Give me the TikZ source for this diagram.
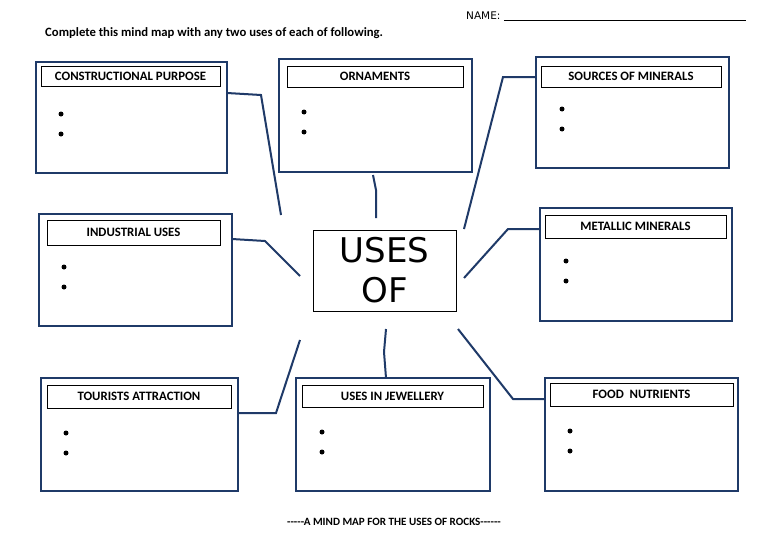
\documentclass[tikz,border=0pt]{standalone}
\usepackage{fontspec}
\setmainfont{Carlito}
\newfontfamily\dejavu{DejaVu Sans}
\definecolor{navy}{HTML}{1F3A68}
\begin{document}
\begin{tikzpicture}[x=1pt,y=-1pt,
  outer/.style={draw=navy,line width=2.4pt,fill=white},
  conn/.style={draw=navy,line width=2pt},
  bul/.style={fill=black,circle,inner sep=0pt,minimum size=5pt}]
\useasboundingbox (0,0) rectangle (768,543);
\fill[white] (0,0) rectangle (768,543);
\node[anchor=west,font=\dejavu\fontsize{10.5}{12}\selectfont,inner sep=0pt] (name) at (466,16) {NAME: \rule[-1.5pt]{242pt}{0.5pt}};
\node[anchor=west,font=\bfseries\fontsize{12.7}{14}\selectfont,inner sep=0pt] (title) at (45,33) {Complete this mind map with any two uses of each of following.};
\node[font=\bfseries\fontsize{11.1}{12}\selectfont] (foot) at (394,522) {{-}{-}{-}{-}{-}A MIND MAP FOR THE USES OF ROCKS{-}{-}{-}{-}{-}{-}};
\foreach \n/\a/\b/\c/\d/\la/\lb/\lc/\ld/\bx/\by/\t in {
 b1/36/62/227/173/41/66/220/86/61/114/CONSTRUCTIONAL PURPOSE,
 b2/279/59/472/172/287/66/463/87/304/112/ORNAMENTS,
 b3/536/57/729/168/541/66/721/87/562/109/SOURCES OF MINERALS,
 b4/39/214/232/326/47/220/220/245/64/267/INDUSTRIAL USES,
 b5/540/208/732/321/545/215/726/238/566/261/METALLIC MINERALS,
 b6/41/378/238/491/47/385/231/408/66/433/TOURISTS ATTRACTION,
 b7/296/378/490/491/302/385/483/407/322/432/USES IN JEWELLERY,
 b8/545/378/738/491/550/383/733/406/570/431/FOOD~~NUTRIENTS}{
  \draw[outer] (\a,\b) rectangle (\c,\d);
  \coordinate (\n) at (\a,\b);
  \draw[line width=0.6pt] (\la,\lb) rectangle (\lc,\ld);
  \node[font=\bfseries\fontsize{12.8}{14}\selectfont] (\n l) at ({(\la+\lc)/2},{(\lb+\ld)/2}) {\t};
  \node[bul] (\n p1) at (\bx,\by) {};
  \node[bul] (\n p2) at (\bx,\by+20) {};
}
\node[draw=black,line width=0.7pt,minimum width=143pt,minimum height=81pt,align=center,
  font=\dejavu\fontsize{34}{40}\selectfont,inner sep=0pt] (c) at (384.5,270.5) {USES\\OF};
\coordinate (e1) at (227,93); \coordinate (f1) at (261,95); \coordinate (g1) at (281,215);
\coordinate (e2) at (373,175); \coordinate (f2) at (376,190); \coordinate (g2) at (376,218);
\coordinate (e3) at (536,77); \coordinate (f3) at (503,77); \coordinate (g3) at (464,229);
\coordinate (e4) at (232,239); \coordinate (f4) at (265,241); \coordinate (g4) at (300,276);
\coordinate (e5) at (540,229); \coordinate (f5) at (508,229); \coordinate (g5) at (464,278);
\coordinate (e6) at (238,413); \coordinate (f6) at (276,413); \coordinate (g6) at (300,340);
\coordinate (e7) at (386,378); \coordinate (f7) at (384,352); \coordinate (g7) at (386,329);
\coordinate (e8) at (545,399); \coordinate (f8) at (513,399); \coordinate (g8) at (458,329);
\foreach \i in {1,...,8}{\draw[conn] (e\i) -- (f\i) -- (g\i);}
\end{tikzpicture}
\end{document}
